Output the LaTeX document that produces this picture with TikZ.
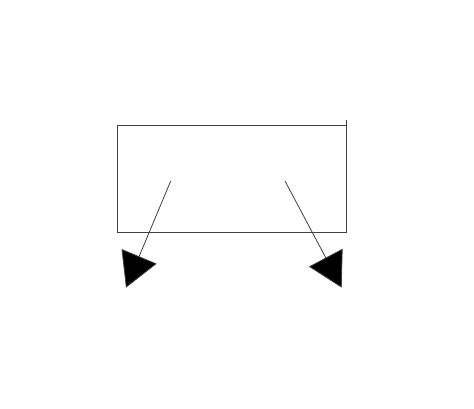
\documentclass[tikz,border=0pt]{standalone}
\usepackage{tikz}
\usetikzlibrary{arrows.meta}
\usetikzlibrary{calc}
\usetikzlibrary{positioning}

\begin{document}
\begin{tikzpicture}[x=1pt,y=1pt,line width=0.8pt,
    boxframe/.style={draw=black!75,inner sep=0pt,outer sep=0pt,minimum width=229pt,minimum height=107.7pt},
    droparrow/.style={draw=black!75,-{Triangle[length=34pt,width=38pt,fill=black]}}]
          \useasboundingbox (0,0) rectangle (474,409);
          \node[boxframe] (frame) at (232.2,230.15) {};
          \coordinate (leftStart) at (170.7,228);
          \coordinate (leftEnd) at (126,121.3);
          \coordinate (rightStart) at (285,228);
          \coordinate (rightEnd) at (341.7,121.3);
          \draw[draw=black!75] (frame.north east) -- ++(0,5);
          \draw[droparrow] (leftStart) -- (leftEnd);
          \draw[droparrow] (rightStart) -- (rightEnd);
        \end{tikzpicture}
\end{document}
